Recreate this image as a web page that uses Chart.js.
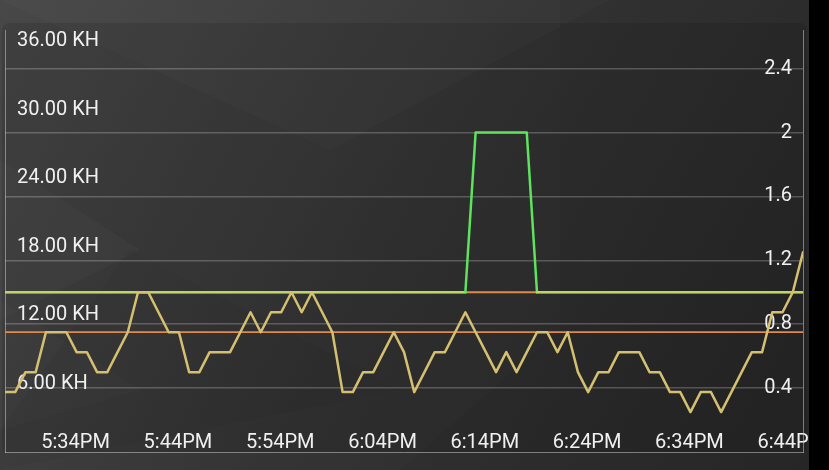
<!DOCTYPE html>
<html>
<head>
<meta charset="utf-8">
<script src="https://cdn.jsdelivr.net/npm/chart.js@4/dist/chart.umd.min.js"></script>
<style>
  html, body { margin: 0; padding: 0; background: #000; overflow: hidden; }
  #wrap { position: absolute; left: 0; top: 0; width: 809px; height: 470px; }
</style>
</head>
<body>
<div id="wrap"><canvas id="c" width="809" height="470"></canvas></div>
<script>
// ---- data (right-axis units for the lines) ----
const startMinute = 27.1;          // first sample ≈ 5:27 PM (minutes after 5:00 PM), one sample per minute
const goldValues = [
  0.375, 0.375, 0.5, 0.5, 0.75, 0.75, 0.75, 0.625, 0.625, 0.5,
  0.5, 0.625, 0.75, 1.0, 1.0, 0.875, 0.75, 0.75, 0.5, 0.5,
  0.625, 0.625, 0.625, 0.75, 0.875, 0.75, 0.875, 0.875, 1.0, 0.875,
  1.0, 0.875, 0.75, 0.375, 0.375, 0.5, 0.5, 0.625, 0.75, 0.625,
  0.375, 0.5, 0.625, 0.625, 0.75, 0.875, 0.75, 0.625, 0.5, 0.625,
  0.5, 0.625, 0.75, 0.75, 0.625, 0.75, 0.5, 0.375, 0.5, 0.5,
  0.625, 0.625, 0.625, 0.5, 0.5, 0.375, 0.375, 0.25, 0.375, 0.375,
  0.25, 0.375, 0.5, 0.625, 0.625, 0.875, 0.875, 1.0, 1.25
];
const greenValues = [
  1, 1, 1, 1, 1, 1, 1, 1, 1, 1,
  1, 1, 1, 1, 1, 1, 1, 1, 1, 1,
  1, 1, 1, 1, 1, 1, 1, 1, 1, 1,
  1, 1, 1, 1, 1, 1, 1, 1, 1, 1,
  1, 1, 1, 1, 1, 1, 2, 2, 2, 2,
  2, 2, 1, 1, 1, 1, 1, 1, 1, 1,
  1, 1, 1, 1, 1, 1, 1, 1, 1, 1,
  1, 1, 1, 1, 1, 1, 1, 1, 1
];
const upperLimit = [1.0, 1.0];
const lowerLimit = [0.75, 0.75];
const xTickMinutes = [34, 44, 54, 64, 74, 84, 94, 104];
const xTickLabels = ['5:34PM', '5:44PM', '5:54PM', '6:04PM', '6:14PM', '6:24PM', '6:34PM', '6:44PM'];
const leftTicks = [6, 12, 18, 24, 30, 36];
const rightTicks = [0.4, 0.8, 1.2, 1.6, 2.0, 2.4];

const endMinute = startMinute + goldValues.length - 1;
const toXY = arr => arr.map((v, i) => ({ x: startMinute + i, y: v }));
const limitXY = arr => [{ x: startMinute, y: arr[0] }, { x: endMinute, y: arr[1] }];

const FONT = { family: 'Roboto', size: 20 };
const LABEL = '#f0f0f0';
const BORDER = 'rgba(200,200,200,0.55)';

const bgPlugin = {
  id: 'bg',
  beforeDraw(chart) {
    const c = chart.ctx, W = chart.width, H = chart.height;
    c.save();
    const g = c.createLinearGradient(0, 0, W, H);
    g.addColorStop(0, '#494848');
    g.addColorStop(0.5, '#353434');
    g.addColorStop(1, '#282828');
    c.fillStyle = g;
    c.fillRect(0, 0, W, H);
    const poly = (pts, col) => {
      c.beginPath(); c.moveTo(pts[0][0], pts[0][1]);
      for (let k = 1; k < pts.length; k++) c.lineTo(pts[k][0], pts[k][1]);
      c.closePath(); c.fillStyle = col; c.fill();
    };
    poly([[0,0],[610,0],[330,150]], 'rgba(255,255,255,0.02)');
    poly([[0,160],[140,250],[0,320]], 'rgba(255,255,255,0.025)');
    poly([[0,300],[140,390],[0,430]], 'rgba(255,255,255,0.02)');
    poly([[560,0],[809,0],[809,470],[400,470],[560,330]], 'rgba(0,0,0,0.04)');
    poly([[130,250],[400,390],[0,470],[0,430]], 'rgba(0,0,0,0.03)');
    // translucent panel
    c.beginPath();
    if (c.roundRect) c.roundRect(2, 23, 805, 430, 7); else c.rect(2, 23, 805, 430);
    c.fillStyle = 'rgba(0,0,0,0.1)';
    c.fill();
    c.restore();
  }
};

new Chart(document.getElementById('c'), {
  type: 'line',
  data: {
    datasets: [
      { label: 'upper', data: limitXY(upperLimit), borderColor: '#e08a4c', borderWidth: 1.8, yAxisID: 'yR', order: 4 },
      { label: 'lower', data: limitXY(lowerLimit), borderColor: '#e08a4c', borderWidth: 1.8, yAxisID: 'yR', order: 3 },
      { label: 'green', data: toXY(greenValues), borderColor: '#5ee35e', borderWidth: 2.5, yAxisID: 'yR', order: 2,
        segment: { borderColor: ctx => (ctx.p0.parsed.y === 1 && ctx.p1.parsed.y === 1) ? '#bcd468' : undefined } },
      { label: 'gold', data: toXY(goldValues), borderColor: '#d4c070', borderWidth: 2.5, yAxisID: 'yR', order: 1 }
    ]
  },
  options: {
    responsive: false,
    animation: false,
    layout: { padding: { left: 5, right: 6, top: 30, bottom: 18 } },
    plugins: { legend: { display: false }, tooltip: { enabled: false } },
    elements: { point: { radius: 0 }, line: { tension: 0, borderCapStyle: 'round', borderJoinStyle: 'round' } },
    scales: {
      x: {
        type: 'linear', min: startMinute, max: endMinute,
        afterBuildTicks: s => { s.ticks = xTickMinutes.map(v => ({ value: v })); },
        ticks: { mirror: true, color: LABEL, font: FONT, padding: -3, maxRotation: 0, autoSkip: false,
          callback: v => xTickLabels[xTickMinutes.indexOf(v)] },
        grid: { display: false, drawTicks: false },
        border: { display: true, color: BORDER, width: 1 },
        afterFit: s => { s.height = 0; s.paddingLeft = 0; s.paddingRight = 0; }
      },
      yL: {
        position: 'left', min: 0, max: 37,
        afterBuildTicks: s => { s.ticks = leftTicks.map(v => ({ value: v })); },
        ticks: { mirror: true, padding: 12, color: LABEL, font: FONT, callback: v => v.toFixed(2) + ' KH' },
        grid: { display: false, drawTicks: false },
        border: { display: true, color: BORDER, width: 1 },
        afterFit: s => { s.width = 0; s.paddingTop = 0; s.paddingBottom = 0; }
      },
      yR: {
        position: 'right', min: 0, max: 2.642,
        afterBuildTicks: s => { s.ticks = rightTicks.map(v => ({ value: v })); },
        ticks: { mirror: true, padding: -11, color: LABEL, font: FONT, callback: v => String(v) },
        grid: { color: 'rgba(255,255,255,0.22)', lineWidth: 1.5, drawTicks: false },
        border: { display: true, color: BORDER, width: 1 },
        afterFit: s => { s.width = 0; s.paddingTop = 0; s.paddingBottom = 0; }
      }
    }
  },
  plugins: [bgPlugin]
});
</script>
</body>
</html>
